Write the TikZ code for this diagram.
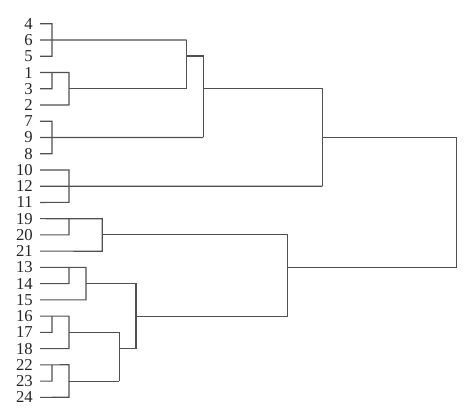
\documentclass[tikz,border=0pt]{standalone}
\usepackage{fontspec}
\setmainfont{Liberation Serif}
\definecolor{treeline}{RGB}{80,80,80}
\tikzset{every picture/.style={line width=0.85pt}}
\tikzset{leaf/.style={anchor=east,inner xsep=5pt,inner ysep=0.75pt,text=black!85,font=\fontsize{12.5}{14}\selectfont}}

\begin{document}
\begin{tikzpicture}[x=0.75pt,y=0.75pt,yscale=-1,xscale=1]
\useasboundingbox (0,0) rectangle (474,417);

% Text Nodes: leaf labels
\foreach \lab [count=\k from 0] in {4,6,5,1,3,2,7,9,8,10,12,11,19,20,21,13,14,15,16,17,18,22,23,24}
  \node [leaf] (n\lab) at (40,{23.8+16.24*\k}) {\lab};

\begin{scope}[draw=treeline]
%Straight Lines: cluster 4 6 5
\draw (n4.east) -- (52,23.8) -- (52,56.3) -- (n5.east) ;
\draw (n6.east) -- (186.5,40) ;
%Straight Lines: cluster 1 3 2
\draw (n3.east) -- (52,88.8) -- (52,72.5) ;
\draw (n1.east) -- (69,72.5) -- (69,105) -- (n2.east) ;
\draw (69,88.8) -- (186.5,88.8) ;
%Straight Lines: joins of upper group
\draw (186.5,40) -- (186.5,88.8) ;
\draw (186.5,56) -- (203.3,56) -- (203.3,137.5) ;
%Straight Lines: cluster 7 9 8
\draw (n7.east) -- (52,121.2) -- (52,153.7) -- (n8.east) ;
\draw (n9.east) -- (203.3,137.5) ;
\draw (203.3,88.8) -- (322.3,88.8) -- (322.3,186.2) ;
%Straight Lines: cluster 10 12 11
\draw (n10.east) -- (69,170) -- (69,202.4) -- (n11.east) ;
\draw (n12.east) -- (322.3,186.2) ;
%Straight Lines: root
\draw (322.3,137.5) -- (456.7,137.5) -- (456.7,267.4) -- (287.7,267.4) ;
%Straight Lines: cluster 19 20 21
\draw (n20.east) -- (69,234.9) -- (69,218.7) ;
\draw (n19.east) -- (102.3,218.7) -- (102.3,251.2) -- (n21.east) ;
\draw (102.3,234.9) -- (287.7,234.9) -- (287.7,316.1) ;
%Straight Lines: cluster 13 14 15
\draw (n14.east) -- (69,283.6) -- (69,267.4) ;
\draw (n13.east) -- (86,267.4) -- (86,299.9) -- (n15.east) ;
\draw (86,283.6) -- (136,283.6) -- (136,348.6) ;
%Straight Lines: cluster 16 17 18
\draw (n17.east) -- (52,332.4) -- (52,316.1) ;
\draw (n16.east) -- (69,316.1) -- (69,348.6) -- (n18.east) ;
\draw (69,332.4) -- (119.3,332.4) -- (119.3,381.1) ;
\draw (119.3,348.6) -- (136,348.6) ;
\draw (136,316.1) -- (287.7,316.1) ;
%Straight Lines: cluster 22 23 24
\draw (n23.east) -- (52,381.1) -- (52,364.8) ;
\draw (n22.east) -- (69,364.8) -- (69,397.3) -- (n24.east) ;
\draw (69,381.1) -- (119.3,381.1) ;
\end{scope}

\end{tikzpicture}
\end{document}
